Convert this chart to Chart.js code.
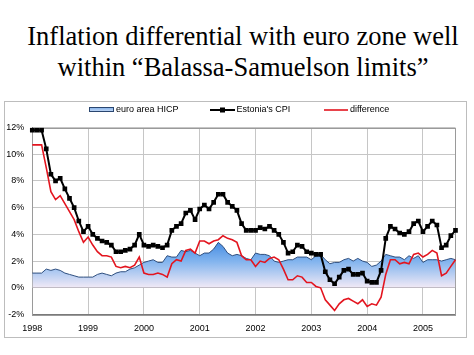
<!DOCTYPE html>
<html>
<head>
<meta charset="utf-8">
<script src="https://cdn.jsdelivr.net/npm/chart.js@4/dist/chart.umd.min.js"></script>
<style>
  html, body { margin: 0; padding: 0; background: #ffffff; }
  body { width: 474px; height: 355px; position: relative; overflow: hidden; }
  #title {
    position: absolute; left: 12px; top: 21px; width: 462px;
    text-align: center; font-family: "Liberation Serif", "Times New Roman", serif;
    font-size: 26.5px; line-height: 31px; color: #000;
  }
  #box {
    position: absolute; left: 4px; top: 101px; width: 461px; height: 235px;
    border: 1px solid #bdbdbd; background: #fff;
  }
  #c { position: absolute; left: 0; top: 0; }
</style>
</head>
<body>
<div id="title">Inflation differential with euro zone well<br>within “Balassa-Samuelson limits”</div>
<div id="box"><canvas id="c" width="461" height="235"></canvas></div>
<script>
// ---- data (monthly, Jan 1998 – Aug 2005), % y/y ----
const years = ['1998', '1999', '2000', '2001', '2002', '2003', '2004', '2005'];
const monthNames = ['Jan','Feb','Mar','Apr','May','Jun','Jul','Aug','Sep','Oct','Nov','Dec'];
const seriesNames = ['euro area HICP', "Estonia's CPI", 'difference'];
const yTicks = [-2, 0, 2, 4, 6, 8, 10, 12];

const euroHICP = [
  1.1, 1.1, 1.1, 1.4, 1.3, 1.4, 1.3, 1.1, 1.0, 0.9, 0.8, 0.8,
  0.8, 0.8, 1.0, 1.1, 1.0, 0.9, 1.1, 1.2, 1.2, 1.4, 1.5, 1.7,
  1.9, 2.0, 2.1, 1.9, 1.9, 2.4, 2.3, 2.3, 2.8, 2.7, 2.8, 2.6,
  2.4, 2.6, 2.6, 2.9, 3.4, 3.1, 2.6, 2.4, 2.5, 2.4, 2.2, 2.1,
  2.6, 2.5, 2.5, 2.4, 2.0, 1.9, 2.0, 2.1, 2.1, 2.3, 2.3, 2.3,
  2.1, 2.4, 2.5, 2.1, 1.8, 1.9, 1.9, 2.1, 2.2, 2.0, 2.2, 2.0,
  1.9, 1.6, 1.7, 2.0, 2.5, 2.4, 2.3, 2.3, 2.1, 2.4, 2.2, 2.4,
  1.9, 2.1, 2.1, 2.1, 2.0, 2.1, 2.2, 2.1
];
const estoniaCPI = [
  11.8, 11.8, 11.8, 10.4, 8.5, 8.0, 8.2, 7.4, 6.7, 6.0, 5.0, 4.2,
  4.6, 4.0, 3.7, 3.5, 3.4, 3.2, 2.7, 2.7, 2.8, 2.9, 3.2, 4.0,
  3.2, 3.1, 3.2, 3.1, 3.0, 3.2, 4.3, 4.6, 4.8, 5.6, 5.8, 5.1,
  5.9, 6.2, 5.9, 6.4, 7.0, 7.0, 6.4, 6.1, 5.8, 4.8, 4.3, 4.3,
  4.3, 4.5, 4.4, 4.6, 4.3, 4.0, 3.4, 2.6, 2.7, 3.2, 3.1, 2.7,
  2.6, 2.5, 2.5, 1.2, 0.6, 0.3, 0.8, 1.3, 1.4, 1.0, 1.0, 1.1,
  0.5, 0.4, 0.4, 1.3, 3.7, 4.6, 4.4, 4.1, 4.0, 4.2, 4.8, 5.0,
  4.2, 4.6, 5.0, 4.7, 3.0, 3.2, 3.9, 4.3
];
const difference = [
  10.7, 10.7, 10.7, 9.0, 7.2, 6.6, 6.9, 6.3, 5.7, 5.1, 4.2, 3.4,
  3.8, 3.2, 2.7, 2.4, 2.4, 2.3, 1.6, 1.5, 1.6, 1.5, 1.7, 2.3,
  1.1, 1.0, 1.0, 1.1, 1.0, 0.8, 1.8, 2.1, 2.0, 2.8, 2.9, 2.6,
  3.5, 3.5, 3.3, 3.5, 3.6, 3.9, 3.7, 3.6, 3.4, 2.4, 2.1, 2.1,
  1.6, 2.0, 1.9, 2.2, 2.3, 2.1, 1.4, 0.6, 0.6, 0.9, 0.8, 0.4,
  0.4, 0.1, 0.0, -0.9, -1.3, -1.7, -1.2, -0.9, -0.8, -1.0, -1.2, -0.9,
  -1.4, -1.2, -1.3, -0.7, 1.0, 2.1, 2.1, 1.8, 1.9, 1.8, 2.5, 2.6,
  2.3, 2.5, 2.8, 2.6, 0.9, 1.1, 1.6, 2.1
];

// category labels: one per month
const categories = [];
years.forEach(y => monthNames.forEach(m => categories.push(m + ' ' + y)));
categories.length = estoniaCPI.length;

const FONT = { family: '"Liberation Sans", Arial, sans-serif', size: 9 };

function areaGradient(chart) {
  const { ctx, chartArea, scales } = chart;
  if (!chartArea) return 'rgba(120,170,230,0.8)';
  const yTop = scales.y.getPixelForValue(3.6);
  const y0 = scales.y.getPixelForValue(0);
  const g = ctx.createLinearGradient(0, yTop, 0, y0);
  g.addColorStop(0, 'rgb(62,135,225)');
  g.addColorStop(0.45, 'rgb(130,180,238)');
  g.addColorStop(1, 'rgb(242,234,246)');
  return g;
}

const frameAndLegend = {
  id: 'frameAndLegend',
  beforeDatasetsDraw(chart) {
    const { ctx, chartArea: a } = chart;
    ctx.save();
    ctx.strokeStyle = '#9a9a9a';
    ctx.lineWidth = 1;
    ctx.strokeRect(Math.round(a.left) + 0.5, Math.round(a.top) + 0.5,
                   Math.round(a.right - a.left), Math.round(a.bottom - a.top));
    ctx.restore();
  },
  afterDraw(chart) {
    const { ctx } = chart;
    ctx.save();
    ctx.font = '9px "Liberation Sans", Arial, sans-serif';
    ctx.fillStyle = '#000';
    ctx.textBaseline = 'middle';
    const ly = 7.5;
    // euro area HICP box
    const g = ctx.createLinearGradient(0, 5, 0, 10);
    g.addColorStop(0, 'rgb(120,170,232)');
    g.addColorStop(1, 'rgb(205,222,246)');
    ctx.fillStyle = g;
    ctx.fillRect(84.5, 5.5, 24, 4);
    ctx.strokeStyle = '#2a4670';
    ctx.lineWidth = 1;
    ctx.strokeRect(84.5, 5.5, 24, 4);
    ctx.fillStyle = '#000';
    ctx.fillText(seriesNames[0], 111, ly);
    // Estonia's CPI
    ctx.strokeStyle = '#000';
    ctx.lineWidth = 2;
    ctx.beginPath(); ctx.moveTo(205, 8); ctx.lineTo(230, 8); ctx.stroke();
    ctx.fillRect(215, 5.5, 5, 5);
    ctx.fillText(seriesNames[1], 231.5, ly);
    // difference
    ctx.strokeStyle = '#e3151f';
    ctx.lineWidth = 1.6;
    ctx.beginPath(); ctx.moveTo(319, 8); ctx.lineTo(343, 8); ctx.stroke();
    ctx.fillText(seriesNames[2], 345, ly);
    ctx.restore();
  }
};

new Chart(document.getElementById('c'), {
  type: 'line',
  data: {
    labels: categories,
    datasets: [
      {
        label: seriesNames[1],
        data: estoniaCPI,
        borderColor: '#000',
        backgroundColor: '#000',
        borderWidth: 2,
        pointStyle: 'rect',
        pointRadius: 3.3,
        pointBorderWidth: 0,
        pointBackgroundColor: '#000',
        tension: 0,
        fill: false,
        order: 1
      },
      {
        label: seriesNames[2],
        data: difference,
        borderColor: '#e3151f',
        borderWidth: 1.6,
        pointRadius: 0,
        tension: 0,
        fill: false,
        order: 2
      },
      {
        label: seriesNames[0],
        data: euroHICP,
        borderColor: '#2f4f7f',
        borderWidth: 1,
        pointRadius: 0,
        tension: 0,
        fill: 'origin',
        backgroundColor: ctx => areaGradient(ctx.chart),
        order: 3
      }
    ]
  },
  options: {
    responsive: false,
    animation: false,
    devicePixelRatio: 1,
    layout: { padding: { top: 25.5, right: 10.5, left: 0, bottom: 0 } },
    plugins: {
      legend: { display: false },
      title: { display: false },
      tooltip: { enabled: false }
    },
    scales: {
      x: {
        type: 'category',
        offset: false,
        afterFit: s => { s.height = 22.5; },
        border: { display: true, color: '#7a7a7a', width: 1 },
        grid: {
          drawTicks: false,
          color: ctx => (ctx.index % 12 === 0 ? '#c6c6c6' : 'rgba(0,0,0,0)'),
          lineWidth: 1
        },
        ticks: {
          autoSkip: false,
          maxRotation: 0,
          minRotation: 0,
          padding: 9,
          color: '#000',
          font: FONT,
          callback: (v, i) => (i % 12 === 0 ? years[i / 12] : '')
        }
      },
      y: {
        min: yTicks[0],
        max: yTicks[yTicks.length - 1],
        afterFit: s => { s.width = 27.3; },
        afterBuildTicks: s => { s.ticks = yTicks.map(v => ({ value: v })); },
        border: { display: true, color: '#7a7a7a', width: 1 },
        grid: {
          drawTicks: false,
          color: ctx => (ctx.tick && ctx.tick.value === 0 ? '#303030' : '#c6c6c6'),
          lineWidth: 1
        },
        ticks: {
          padding: 8,
          color: '#000',
          font: FONT,
          callback: v => v + '%'
        }
      }
    }
  },
  plugins: [frameAndLegend]
});
</script>
</body>
</html>
